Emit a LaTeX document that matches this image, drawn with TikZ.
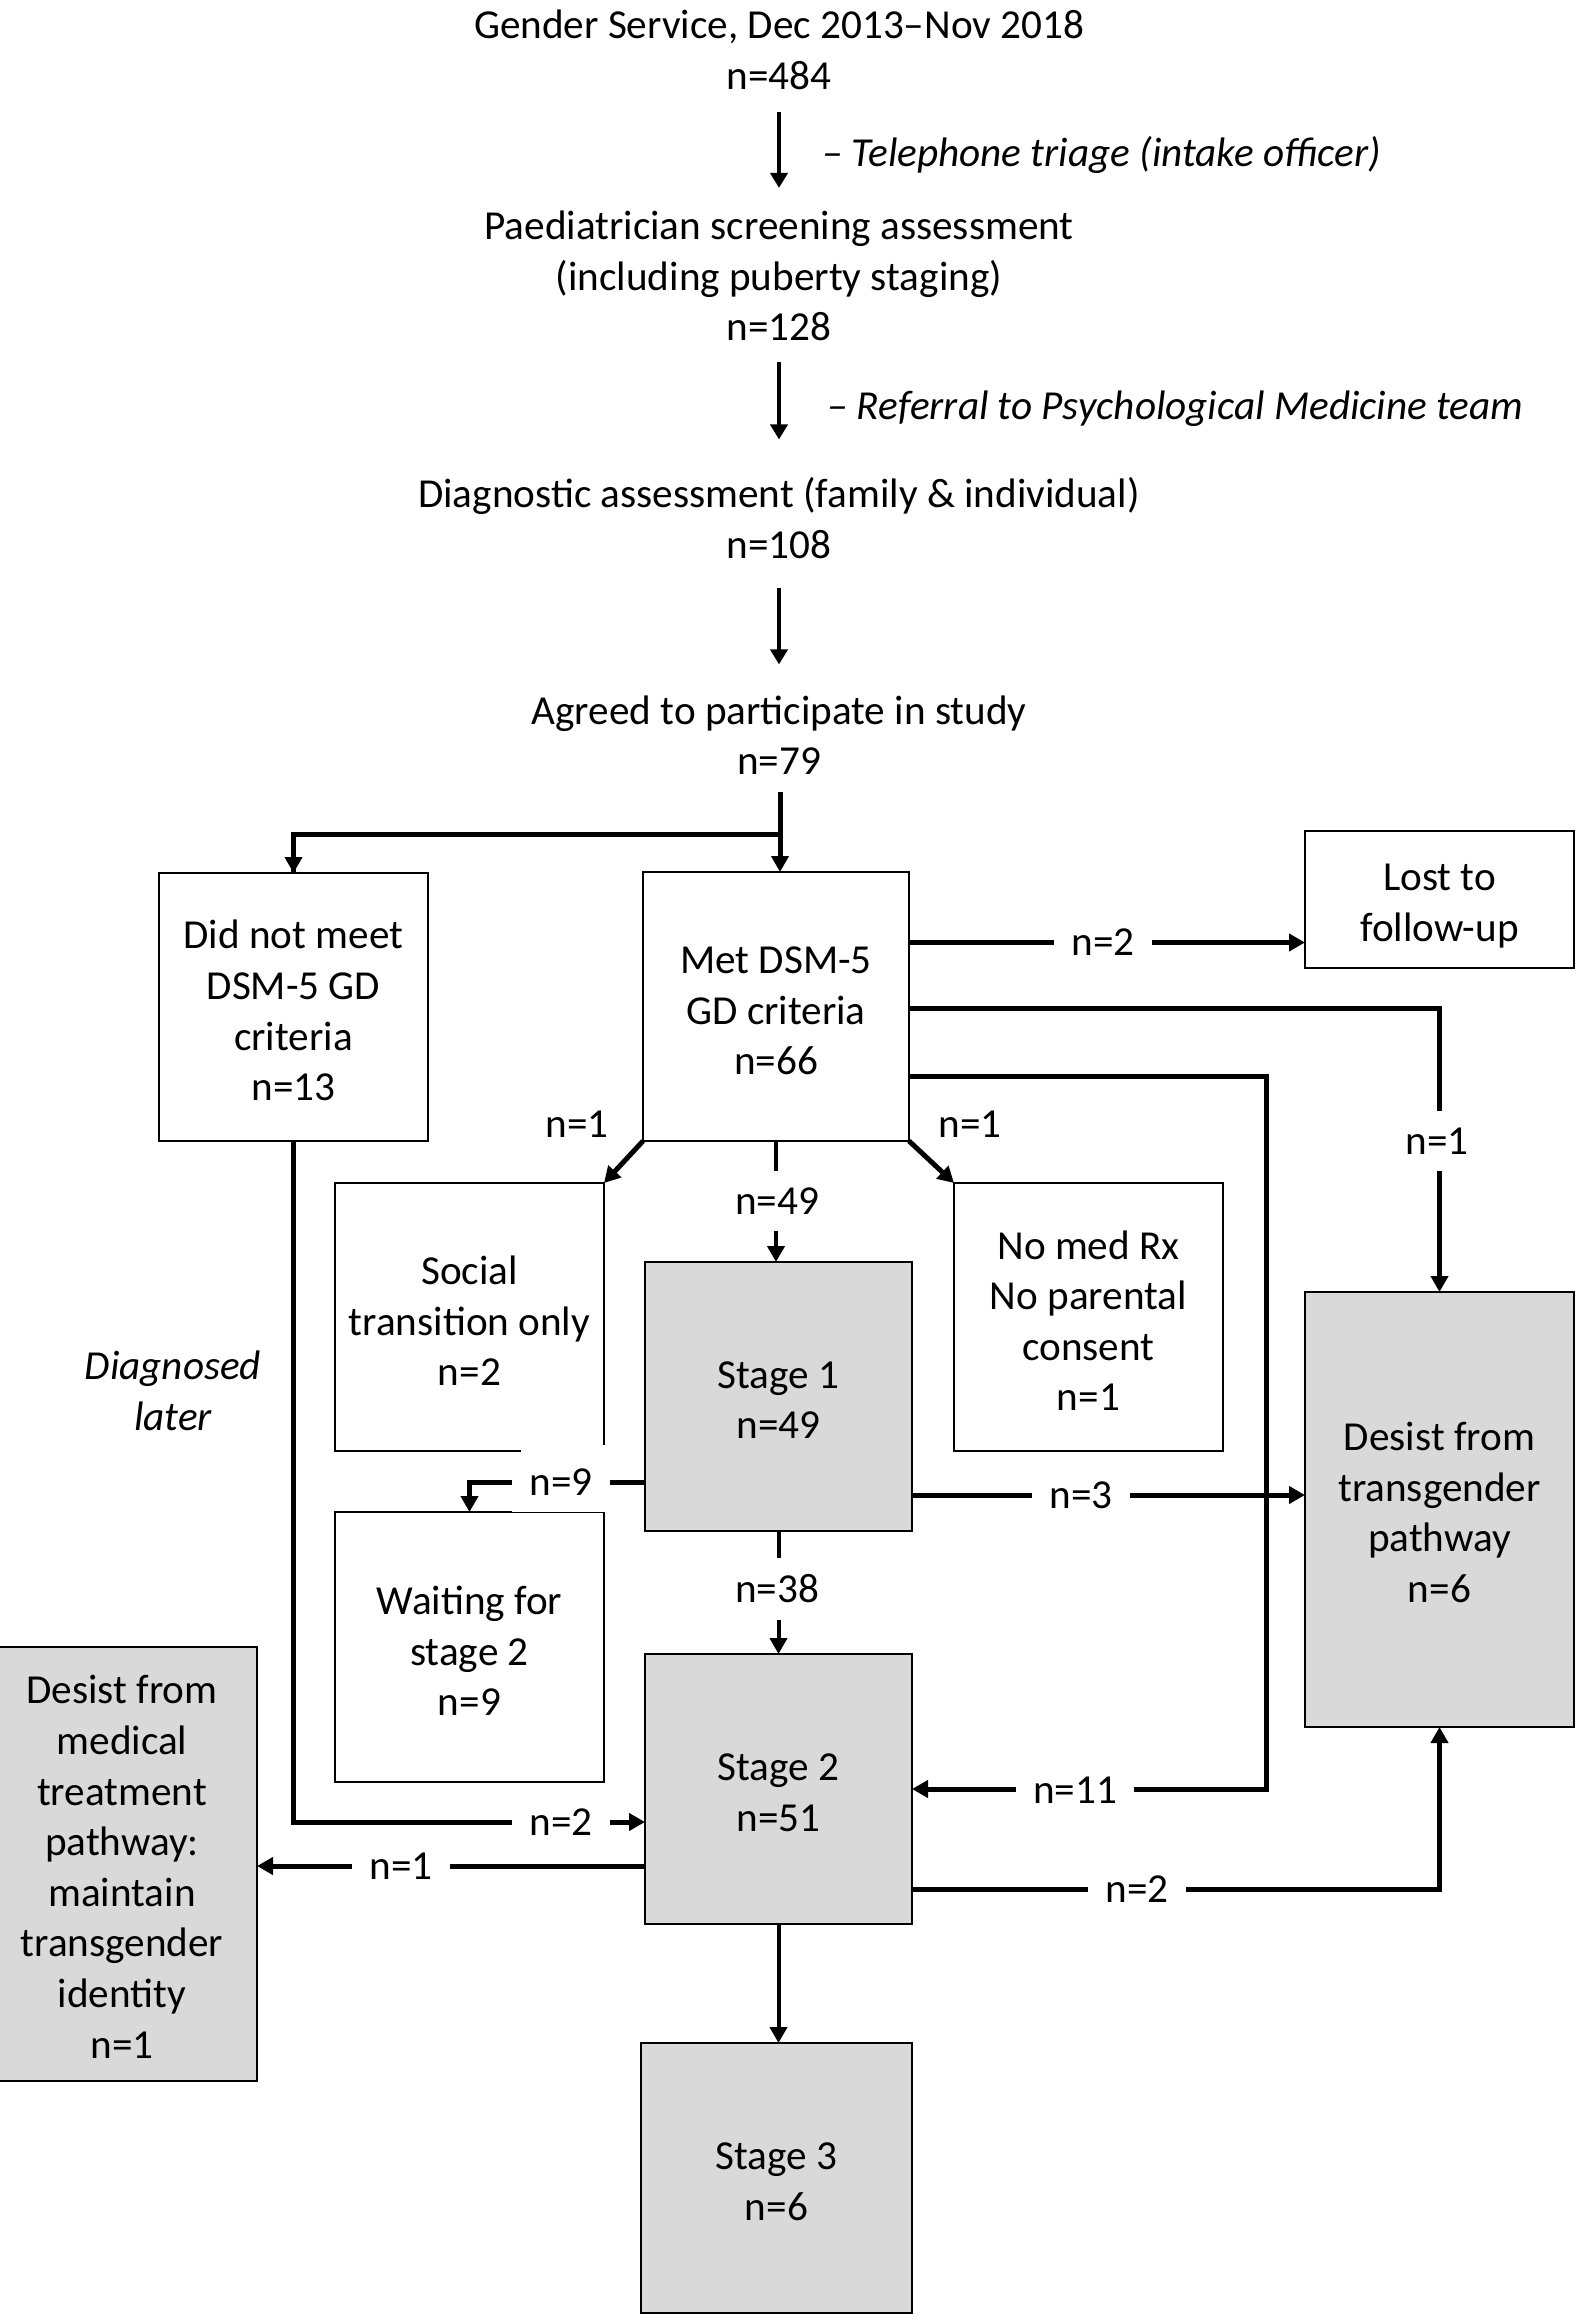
\documentclass[tikz,border=0pt]{standalone}
\usepackage{fontspec}
\setmainfont{Carlito}
\usetikzlibrary{arrows.meta,calc}
\definecolor{boxgray}{RGB}{217,217,217}
\newcommand\toppad[1]{\rule{0pt}{#1}}
\begin{document}
\begin{tikzpicture}[x=0.5pt,y=-0.5pt,
  every node/.style={font=\fontsize{20.6}{25.3}\selectfont},
  box/.style={draw, line width=1pt, align=center, inner sep=0pt, outer sep=0pt},
  gbox/.style={box, fill=boxgray},
  sz/.style 2 args={minimum width=#1*0.5pt, minimum height=#2*0.5pt},
  txt/.style={align=center, inner sep=0pt, outer sep=0pt},
  lab/.style={fill=white, inner sep=8.5pt},
  plainlab/.style={inner sep=0pt},
  thk/.style={line width=2.5pt, line join=miter},
  thkarr/.style={thk, -{Triangle[length=8pt,width=8.5pt]}},
  medarr/.style={line width=2pt, line join=miter, -{Triangle[length=8pt,width=8.5pt]}},
  toparr/.style={line width=2pt, -{Triangle[length=7.5pt,width=8.5pt]}},
]
\useasboundingbox (0,0) rectangle (1592,2322);

% top text nodes
\node[txt] (gs) at (779,50) {Gender Service, Dec 2013--Nov 2018\\n=484};
\node[txt] (paed) at (779,276) {Paediatrician screening assessment\\(including puberty staging)\\n=128};
\node[txt] (diag) at (779,518) {Diagnostic assessment (family \& individual)\\n=108};
\node[txt] (agreed) at (779,735) {Agreed to participate in study\\n=79};
\node[txt, anchor=west, font=\fontsize{20.6}{25.3}\selectfont\itshape] (tri) at (822,155) {-- Telephone triage (intake officer)};
\node[txt, anchor=west, font=\fontsize{20.6}{25.3}\selectfont\itshape] (ref) at (827,409) {-- Referral to Psychological Medicine team};

% boxes
\node[box, sz={269}{268}] (didnot) at (293.5,1007) {\toppad{18pt}Did not meet\\DSM-5 GD\\criteria\\n=13};
\node[box, sz={266}{269}] (met) at (776,1006.5) {\toppad{18pt}Met DSM-5\\GD criteria\\n=66};
\node[box, sz={269}{137}] (lost) at (1439.5,899.5) {\toppad{20pt}Lost to\\follow-up};
\node[txt, sz={269}{268}] (social) at (469.5,1317) {\toppad{18pt}Social\\transition only\\n=2};
\node[box, sz={269}{268}] (nomed) at (1088.5,1317) {\toppad{18pt}No med Rx\\No parental\\consent\\n=1};
\node[gbox, sz={267}{269}] (stage1) at (778.5,1396.5) {\toppad{17pt}Stage 1\\n=49};
\node[box, sz={269}{270}] (waiting) at (469.5,1647) {\toppad{18pt}Waiting for\\stage 2\\n=9};
\node[gbox, sz={267}{270}] (stage2) at (778.5,1789) {\toppad{17pt}Stage 2\\n=51};
\node[gbox, sz={271}{270}] (stage3) at (776.5,2178) {\toppad{17pt}Stage 3\\n=6};
\node[gbox, sz={269}{435}] (desist) at (1439.5,1509.5) {\toppad{17pt}Desist from\\transgender\\pathway\\n=6};
\node[gbox, sz={270}{434}] (desistmed) at (122,1864) {\toppad{17pt}Desist from\\medical\\treatment\\pathway:\\maintain\\transgender\\identity\\n=1};
\node[txt, font=\fontsize{20.6}{25.3}\selectfont\itshape] (later) at (173,1391) {Diagnosed\\later};

% social box outline (open at lower right corner)
\draw[line width=1pt] ([yshift=-131pt]social.north east) -- (social.north east) -- (social.north west) -- (social.south west) -- ++(186,0);

% top arrows
\draw[toparr] ([yshift=-11pt]gs.south) -- ([yshift=11.5pt]paed.north);
\draw[toparr] ([yshift=-10.5pt]paed.south) -- ([yshift=19pt]diag.north);
\draw[toparr] ([yshift=-14.5pt]diag.south) -- ([yshift=15.5pt]agreed.north);

% split
\coordinate (jn) at (780,834);
\draw[thk] ([xshift=0.5pt,yshift=-8.5pt]agreed.south) -- (jn) -| (didnot.north);
\draw[thkarr] ([yshift=1.25pt]jn) -- (jn) -| (didnot.north);
\draw[thkarr] (jn) -- (jn |- met.north);

% from Met
\draw[thkarr] ([yshift=32pt]met.east) -- ([yshift=32pt]met.east -| lost.west);
\draw[thkarr] ([yshift=-0.75pt]met.east) -| (desist.north);
\draw[thkarr] ([yshift=-34.75pt]met.east) -- ++(357,0) |- (stage2.east);
\draw[thkarr] (met.south west) -- (social.north east);
\draw[thkarr] (met.south east) -- (nomed.north west);
\draw[medarr] (met.south) -- (met.south |- stage1.north);

% from Stage 1
\draw[thkarr] ([yshift=-42.75pt]stage1.west) -| (waiting.north);
\draw[thkarr] ([yshift=-49.25pt]stage1.east) -- ([yshift=-49.25pt]stage1.east -| desist.west);
\draw[medarr] (stage1.south) -- (stage2.north);

% into / from Stage 2
\draw[thkarr] (didnot.south) |- ([yshift=-16.5pt]stage2.west);
\draw[thkarr] ([yshift=-38.5pt]stage2.west) -- ([yshift=-38.5pt]stage2.west -| desistmed.east);
\draw[thkarr] ([yshift=-50pt]stage2.east) -| (desist.south);
\draw[medarr] (stage2.south) -- (stage2.south |- stage3.north);

% labels
\node[lab] (l1) at (1103,942) {n=2};
\node[lab] (l2) at (1437,1141) {n=1};
\node[lab] (l3) at (1075,1790) {n=11};
\node[plainlab] (l4) at (577,1124) {n=1};
\node[plainlab] (l5) at (970,1124) {n=1};
\node[lab] (l6) at (777,1201) {n=49};
\node[lab] (l7) at (561,1482) {n=9};
\node[lab] (l8) at (1081,1495) {n=3};
\node[lab] (l9) at (777,1589) {n=38};
\node[lab] (l10) at (561,1822) {n=2};
\node[lab] (l11) at (401,1866) {n=1};
\node[lab] (l12) at (1137,1889) {n=2};
\end{tikzpicture}
\end{document}
